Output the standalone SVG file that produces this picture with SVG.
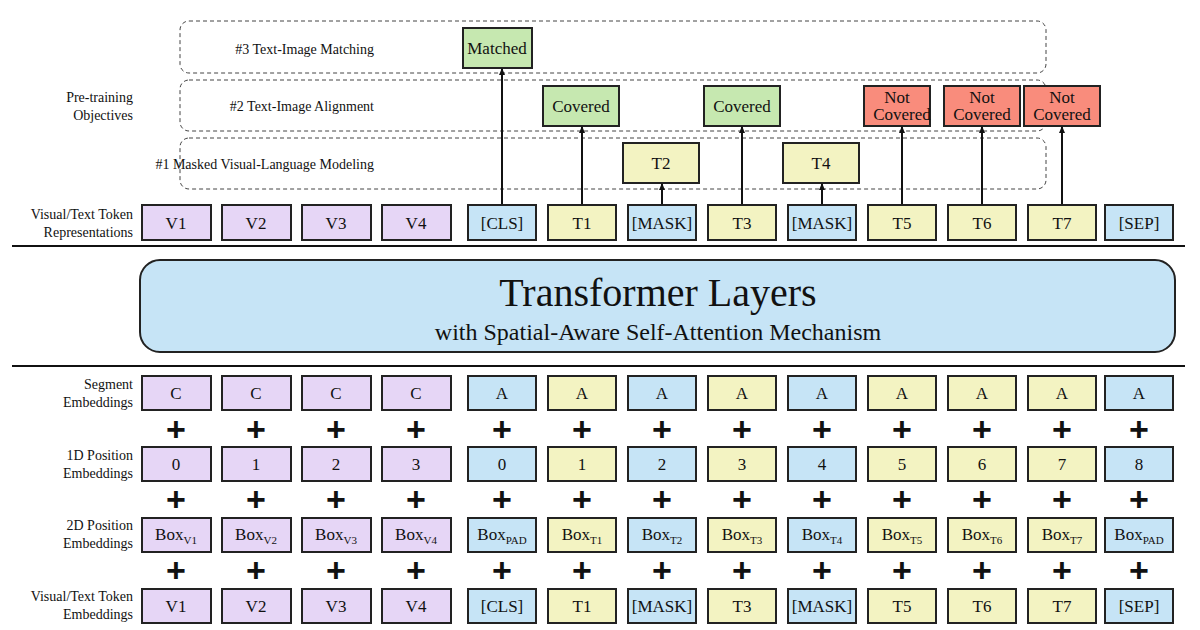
<svg xmlns="http://www.w3.org/2000/svg" width="1200" height="630" viewBox="0 0 1200 630">
<defs>
<style>
text{font-family:"Liberation Serif","Times New Roman",serif;fill:#111}
.b{stroke:#222;stroke-width:2}
.p{fill:#e6d6f6}.c{fill:#c6e4f6}.y{fill:#f3f3c2}.g{fill:#c6e8b0}.r{fill:#f98c7c}
.t{font-size:17px;text-anchor:middle}
.l{font-size:14px;text-anchor:end}
.o{font-size:14px;text-anchor:end}
.plus{font-family:"Liberation Sans",Arial,sans-serif;font-weight:bold;font-size:34px;text-anchor:middle}
.d{fill:none;stroke:#444;stroke-width:1;stroke-dasharray:4 3}
.a{stroke:#111;stroke-width:2;fill:none;marker-end:url(#ah)}
</style>
<marker id="ah" markerWidth="8" markerHeight="8" refX="6" refY="4" orient="auto" markerUnits="userSpaceOnUse"><path d="M0,1 L7,4 L0,7 Z" fill="#111"/></marker>
</defs>
<rect width="1200" height="630" fill="#fff"/>
<g id="objectives">
<rect class="d" x="180" y="21" width="866" height="52" rx="9"/>
<rect class="d" x="180" y="80" width="866" height="51" rx="9"/>
<rect class="d" x="180" y="138" width="866" height="51" rx="9"/>
<text class="o" x="374" y="54">#3 Text-Image Matching</text>
<text class="o" x="374" y="111">#2 Text-Image Alignment</text>
<text class="o" x="374" y="169">#1 Masked Visual-Language Modeling</text>
<text class="l" x="133" y="102">Pre-training</text>
<text class="l" x="133" y="120">Objectives</text>
</g>
<g id="targets">
<g id="matched"><rect class="b g" x="463" y="28" width="69" height="40"/><text class="t" x="497" y="54">Matched</text></g>
<g id="cov1"><rect class="b g" x="543" y="86" width="76" height="40"/><text class="t" x="581" y="112">Covered</text></g>
<g id="cov3"><rect class="b g" x="704" y="86" width="76" height="40"/><text class="t" x="742" y="112">Covered</text></g>
<g id="nc5"><rect class="b r" x="864" y="86" width="66" height="40"/><text class="t" x="897" y="103">Not</text><text class="t" x="902" y="120">Covered</text></g>
<g id="nc6"><rect class="b r" x="944" y="86" width="76" height="40"/><text class="t" x="982" y="103">Not</text><text class="t" x="982" y="120">Covered</text></g>
<g id="nc7"><rect class="b r" x="1024" y="86" width="76" height="40"/><text class="t" x="1062" y="103">Not</text><text class="t" x="1062" y="120">Covered</text></g>
<g id="t2"><rect class="b y" x="623" y="143" width="76" height="40"/><text class="t" x="661" y="169">T2</text></g>
<g id="t4"><rect class="b y" x="783" y="143" width="76" height="40"/><text class="t" x="821" y="169">T4</text></g>
</g>
<g id="connectors">
<line class="a" x1="502" y1="205" x2="502" y2="69"/>
<line class="a" x1="582" y1="205" x2="582" y2="127"/>
<line class="a" x1="662" y1="205" x2="662" y2="184"/>
<line class="a" x1="742" y1="205" x2="742" y2="127"/>
<line class="a" x1="822" y1="205" x2="822" y2="184"/>
<line class="a" x1="902" y1="205" x2="902" y2="127"/>
<line class="a" x1="982" y1="205" x2="982" y2="127"/>
<line class="a" x1="1062" y1="205" x2="1062" y2="127"/>
</g>
<g id="rep-row">
<text class="l" x="133" y="219">Visual/Text Token</text>
<text class="l" x="133" y="237">Representations</text>
<g class="b">
<rect class="p" x="142" y="205" width="69" height="35"/><rect class="p" x="222" y="205" width="69" height="35"/><rect class="p" x="302" y="205" width="69" height="35"/><rect class="p" x="382" y="205" width="69" height="35"/>
<rect class="c" x="468" y="205" width="68" height="35"/><rect class="y" x="548" y="205" width="68" height="35"/><rect class="c" x="628" y="205" width="68" height="35"/><rect class="y" x="708" y="205" width="68" height="35"/><rect class="c" x="788" y="205" width="68" height="35"/><rect class="y" x="868" y="205" width="68" height="35"/><rect class="y" x="948" y="205" width="68" height="35"/><rect class="y" x="1028" y="205" width="68" height="35"/><rect class="c" x="1105" y="205" width="68" height="35"/>
</g>
<g class="t">
<text class="t" x="176" y="229">V1</text><text class="t" x="256" y="229">V2</text><text class="t" x="336" y="229">V3</text><text class="t" x="416" y="229">V4</text><text class="t" x="502" y="229">[CLS]</text><text class="t" x="582" y="229">T1</text><text class="t" x="662" y="229">[MASK]</text><text class="t" x="742" y="229">T3</text><text class="t" x="822" y="229">[MASK]</text><text class="t" x="902" y="229">T5</text><text class="t" x="982" y="229">T6</text><text class="t" x="1062" y="229">T7</text><text class="t" x="1139" y="229">[SEP]</text>
</g>
</g>
<line x1="12" y1="246" x2="1185" y2="246" stroke="#111" stroke-width="2"/>
<line x1="12" y1="366" x2="1185" y2="366" stroke="#111" stroke-width="2"/>
<g id="transformer">
<rect x="140" y="260" width="1035" height="92" rx="20" fill="#c6e4f6" stroke="#222" stroke-width="2"/>
<text x="658" y="306" font-size="40" text-anchor="middle">Transformer Layers</text>
<text x="658" y="340" font-size="24" text-anchor="middle">with Spatial-Aware Self-Attention Mechanism</text>
</g>
<g id="segment-row">
<text class="l" x="133" y="389">Segment</text><text class="l" x="133" y="407">Embeddings</text>
<g class="b">
<rect class="p" x="142" y="376" width="69" height="34"/><rect class="p" x="222" y="376" width="69" height="34"/><rect class="p" x="302" y="376" width="69" height="34"/><rect class="p" x="382" y="376" width="69" height="34"/>
<rect class="c" x="468" y="376" width="68" height="34"/><rect class="y" x="548" y="376" width="68" height="34"/><rect class="c" x="628" y="376" width="68" height="34"/><rect class="y" x="708" y="376" width="68" height="34"/><rect class="c" x="788" y="376" width="68" height="34"/><rect class="y" x="868" y="376" width="68" height="34"/><rect class="y" x="948" y="376" width="68" height="34"/><rect class="y" x="1028" y="376" width="68" height="34"/><rect class="c" x="1105" y="376" width="68" height="34"/>
</g>
<text class="t" x="176" y="399">C</text><text class="t" x="256" y="399">C</text><text class="t" x="336" y="399">C</text><text class="t" x="416" y="399">C</text><text class="t" x="502" y="399">A</text><text class="t" x="582" y="399">A</text><text class="t" x="662" y="399">A</text><text class="t" x="742" y="399">A</text><text class="t" x="822" y="399">A</text><text class="t" x="902" y="399">A</text><text class="t" x="982" y="399">A</text><text class="t" x="1062" y="399">A</text><text class="t" x="1139" y="399">A</text>
</g>
<g id="plus-1">
<text class="plus" x="176" y="441">+</text><text class="plus" x="256" y="441">+</text><text class="plus" x="336" y="441">+</text><text class="plus" x="416" y="441">+</text><text class="plus" x="502" y="441">+</text><text class="plus" x="582" y="441">+</text><text class="plus" x="662" y="441">+</text><text class="plus" x="742" y="441">+</text><text class="plus" x="822" y="441">+</text><text class="plus" x="902" y="441">+</text><text class="plus" x="982" y="441">+</text><text class="plus" x="1062" y="441">+</text><text class="plus" x="1139" y="441">+</text>
</g>
<g id="pos1d-row">
<text class="l" x="133" y="460">1D Position</text><text class="l" x="133" y="478">Embeddings</text>
<g class="b">
<rect class="p" x="142" y="447" width="69" height="34"/><rect class="p" x="222" y="447" width="69" height="34"/><rect class="p" x="302" y="447" width="69" height="34"/><rect class="p" x="382" y="447" width="69" height="34"/>
<rect class="c" x="468" y="447" width="68" height="34"/><rect class="y" x="548" y="447" width="68" height="34"/><rect class="c" x="628" y="447" width="68" height="34"/><rect class="y" x="708" y="447" width="68" height="34"/><rect class="c" x="788" y="447" width="68" height="34"/><rect class="y" x="868" y="447" width="68" height="34"/><rect class="y" x="948" y="447" width="68" height="34"/><rect class="y" x="1028" y="447" width="68" height="34"/><rect class="c" x="1105" y="447" width="68" height="34"/>
</g>
<text class="t" x="176" y="470">0</text><text class="t" x="256" y="470">1</text><text class="t" x="336" y="470">2</text><text class="t" x="416" y="470">3</text><text class="t" x="502" y="470">0</text><text class="t" x="582" y="470">1</text><text class="t" x="662" y="470">2</text><text class="t" x="742" y="470">3</text><text class="t" x="822" y="470">4</text><text class="t" x="902" y="470">5</text><text class="t" x="982" y="470">6</text><text class="t" x="1062" y="470">7</text><text class="t" x="1139" y="470">8</text>
</g>
<g id="plus-2">
<text class="plus" x="176" y="511">+</text><text class="plus" x="256" y="511">+</text><text class="plus" x="336" y="511">+</text><text class="plus" x="416" y="511">+</text><text class="plus" x="502" y="511">+</text><text class="plus" x="582" y="511">+</text><text class="plus" x="662" y="511">+</text><text class="plus" x="742" y="511">+</text><text class="plus" x="822" y="511">+</text><text class="plus" x="902" y="511">+</text><text class="plus" x="982" y="511">+</text><text class="plus" x="1062" y="511">+</text><text class="plus" x="1139" y="511">+</text>
</g>
<g id="pos2d-row">
<text class="l" x="133" y="530">2D Position</text><text class="l" x="133" y="548">Embeddings</text>
<g class="b">
<rect class="p" x="142" y="518" width="69" height="34"/><rect class="p" x="222" y="518" width="69" height="34"/><rect class="p" x="302" y="518" width="69" height="34"/><rect class="p" x="382" y="518" width="69" height="34"/>
<rect class="c" x="468" y="518" width="68" height="34"/><rect class="y" x="548" y="518" width="68" height="34"/><rect class="c" x="628" y="518" width="68" height="34"/><rect class="y" x="708" y="518" width="68" height="34"/><rect class="c" x="788" y="518" width="68" height="34"/><rect class="y" x="868" y="518" width="68" height="34"/><rect class="y" x="948" y="518" width="68" height="34"/><rect class="y" x="1028" y="518" width="68" height="34"/><rect class="c" x="1105" y="518" width="68" height="34"/>
</g>
<g font-size="16">
<text class="t" x="176" y="540" font-size="16">Box<tspan font-size="11" dy="4">V1</tspan></text>
<text class="t" x="256" y="540" font-size="16">Box<tspan font-size="11" dy="4">V2</tspan></text>
<text class="t" x="336" y="540" font-size="16">Box<tspan font-size="11" dy="4">V3</tspan></text>
<text class="t" x="416" y="540" font-size="16">Box<tspan font-size="11" dy="4">V4</tspan></text>
<text class="t" x="502" y="540" font-size="16">Box<tspan font-size="11" dy="4">PAD</tspan></text>
<text class="t" x="582" y="540" font-size="16">Box<tspan font-size="11" dy="4">T1</tspan></text>
<text class="t" x="662" y="540" font-size="16">Box<tspan font-size="11" dy="4">T2</tspan></text>
<text class="t" x="742" y="540" font-size="16">Box<tspan font-size="11" dy="4">T3</tspan></text>
<text class="t" x="822" y="540" font-size="16">Box<tspan font-size="11" dy="4">T4</tspan></text>
<text class="t" x="902" y="540" font-size="16">Box<tspan font-size="11" dy="4">T5</tspan></text>
<text class="t" x="982" y="540" font-size="16">Box<tspan font-size="11" dy="4">T6</tspan></text>
<text class="t" x="1062" y="540" font-size="16">Box<tspan font-size="11" dy="4">T7</tspan></text>
<text class="t" x="1139" y="540" font-size="16">Box<tspan font-size="11" dy="4">PAD</tspan></text>
</g>
</g>
<g id="plus-3">
<text class="plus" x="176" y="582">+</text><text class="plus" x="256" y="582">+</text><text class="plus" x="336" y="582">+</text><text class="plus" x="416" y="582">+</text><text class="plus" x="502" y="582">+</text><text class="plus" x="582" y="582">+</text><text class="plus" x="662" y="582">+</text><text class="plus" x="742" y="582">+</text><text class="plus" x="822" y="582">+</text><text class="plus" x="902" y="582">+</text><text class="plus" x="982" y="582">+</text><text class="plus" x="1062" y="582">+</text><text class="plus" x="1139" y="582">+</text>
</g>
<g id="token-row">
<text class="l" x="133" y="601">Visual/Text Token</text><text class="l" x="133" y="619">Embeddings</text>
<g class="b">
<rect class="p" x="142" y="589" width="69" height="34"/><rect class="p" x="222" y="589" width="69" height="34"/><rect class="p" x="302" y="589" width="69" height="34"/><rect class="p" x="382" y="589" width="69" height="34"/>
<rect class="c" x="468" y="589" width="68" height="34"/><rect class="y" x="548" y="589" width="68" height="34"/><rect class="c" x="628" y="589" width="68" height="34"/><rect class="y" x="708" y="589" width="68" height="34"/><rect class="c" x="788" y="589" width="68" height="34"/><rect class="y" x="868" y="589" width="68" height="34"/><rect class="y" x="948" y="589" width="68" height="34"/><rect class="y" x="1028" y="589" width="68" height="34"/><rect class="c" x="1105" y="589" width="68" height="34"/>
</g>
<text class="t" x="176" y="612">V1</text><text class="t" x="256" y="612">V2</text><text class="t" x="336" y="612">V3</text><text class="t" x="416" y="612">V4</text><text class="t" x="502" y="612">[CLS]</text><text class="t" x="582" y="612">T1</text><text class="t" x="662" y="612">[MASK]</text><text class="t" x="742" y="612">T3</text><text class="t" x="822" y="612">[MASK]</text><text class="t" x="902" y="612">T5</text><text class="t" x="982" y="612">T6</text><text class="t" x="1062" y="612">T7</text><text class="t" x="1139" y="612">[SEP]</text>
</g>
</svg>
